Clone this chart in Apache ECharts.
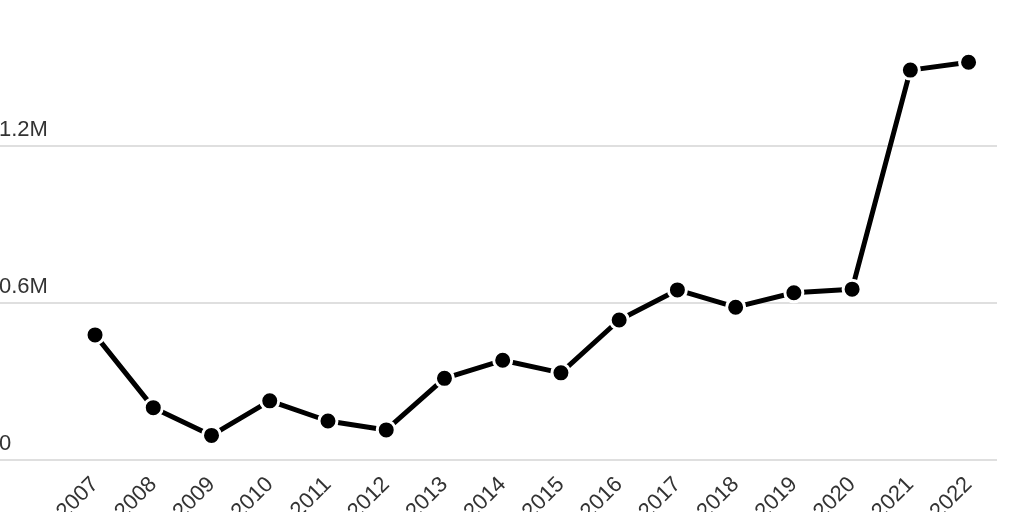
<!DOCTYPE html>
<html>
<head>
<meta charset="utf-8">
<script src="https://cdn.jsdelivr.net/npm/echarts@6/dist/echarts.min.js"></script>
<style>
html,body{margin:0;padding:0;background:#fff;}
#chart{width:1024px;height:512px;}
</style>
</head>
<body>
<div id="chart"></div>
<script>
const years = [2007,2008,2009,2010,2011,2012,2013,2014,2015,2016,2017,2018,2019,2020,2021,2022];
const values = [478000,200000,94000,226000,149000,115000,312000,381000,333000,535000,650000,584000,639000,653000,1490000,1520000];
const yTicks = [0,600000,1200000,1800000];
const yTickLabels = ['0','0.6M','1.2M','1.8M'];

const chart = echarts.init(document.getElementById('chart'), null, {renderer:'canvas'});
chart.setOption({
  animation:false,
  backgroundColor:'#ffffff',
  grid:{left:0,right:27,top:-11,bottom:52,containLabel:false,outerBoundsMode:'none'},
  xAxis:{
    type:'value',
    min:2005.368,
    max:2022.488,
    axisLine:{show:false},
    axisTick:{show:false},
    splitLine:{show:false},
    axisLabel:{
      customValues:years,
      rotate:45,
      margin:21,
      fontSize:22,
      color:'#333',
      fontFamily:'Liberation Sans, Arial, sans-serif',
      formatter:v=>String(v)
    }
  },
  yAxis:{
    type:'value',
    min:0,
    max:1800000,
    interval:600000,
    axisLine:{show:false},
    axisTick:{show:false},
    splitLine:{show:true,lineStyle:{color:'#d4d4d4',width:1.5}},
    axisLabel:{
      inside:true,
      margin:-1,
      verticalAlign:'bottom',
      padding:[0,0,5,0],
      fontSize:22,
      color:'#333',
      fontFamily:'Liberation Sans, Arial, sans-serif',
      formatter:v=>{const i=yTicks.indexOf(v);return i>=0?yTickLabels[i]:'';}
    }
  },
  series:[{
    type:'line',
    data:years.map((y,i)=>[y,values[i]]),
    lineStyle:{color:'#000',width:5},
    symbol:'circle',
    symbolSize:18,
    itemStyle:{color:'#000',borderColor:'#fff',borderWidth:3},
    z:3
  }]
});
</script>
</body>
</html>
